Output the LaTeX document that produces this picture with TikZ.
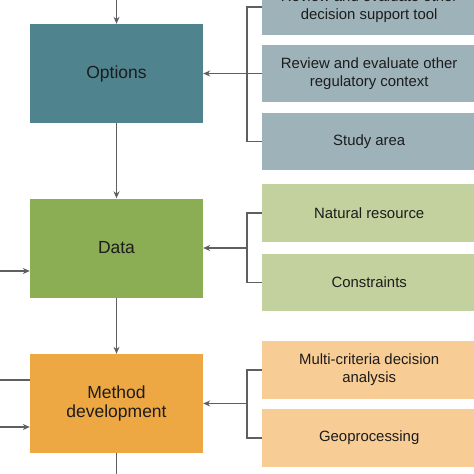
\documentclass[tikz,border=0pt]{standalone}
\usepackage{fontspec}
\setmainfont{Liberation Sans}
\usetikzlibrary{arrows.meta}
\definecolor{optfill}{HTML}{4F848E}
\definecolor{optsub}{HTML}{9EB3B9}
\definecolor{datfill}{HTML}{8BAD54}
\definecolor{datsub}{HTML}{C3D19E}
\definecolor{metfill}{HTML}{EEA843}
\definecolor{metsub}{HTML}{F7CC95}
\definecolor{linea}{HTML}{5F5F63}
\definecolor{testo}{HTML}{1C1C1C}
\tikzset{
  mainbox/.style={minimum width=173pt,minimum height=99pt,inner sep=0pt,text=testo,
    font=\fontsize{17.5}{19}\selectfont,align=center},
  subbox/.style={minimum width=214pt,minimum height=57.5pt,inner sep=0pt,text=testo,
    font=\fontsize{14.9}{18}\selectfont,align=center,anchor=west},
  conn/.style={draw=linea,line width=1.1pt},
  freccia/.style={conn,-{Stealth[length=7pt,width=6pt]}}
}
\begin{document}
\begin{tikzpicture}[x=1pt,y=-1pt]

\useasboundingbox (0,0) rectangle (474,474);
\clip (0,0) rectangle (474,474);

\begin{scope}
% main steps
\node[mainbox,fill=optfill] (opzioni) at (116.5,73.5) {Options};
\node[mainbox,fill=datfill] (dati) at (116.5,248) {Data};
\node[mainbox,fill=metfill] (metodo) at (116.5,403.5) {Method\\development};

% side boxes
\node[subbox,fill=optsub,minimum height=56pt] (strumento) at (262,7) {Review and evaluate other\\decision support tool};
\node[subbox,fill=optsub] (contesto) at (262,73.5) {Review and evaluate other\\regulatory context};
\node[subbox,fill=optsub] (area) at (262,141.5) {Study area};

\node[subbox,fill=datsub] (risorse) at (262,213) {Natural resource};
\node[subbox,fill=datsub] (vincoli) at (262,282.5) {Constraints};

\node[subbox,fill=metsub] (mcda) at (262,370) {Multi-criteria decision\\analysis};
\node[subbox,fill=metsub] (geo) at (262,438) {Geoprocessing};

\coordinate (top) at (116.5,0);
\coordinate (bottom) at (116.5,474);
\coordinate (ba) at (247,73.5);
\coordinate (bb) at (247,248);
\coordinate (bc) at (247,403.5);
\coordinate (la) at (0,271);
\coordinate (lb) at (0,380);
\coordinate (lc) at (0,427);

% main flow
\draw[freccia] (top) -- (opzioni.north);
\draw[freccia] (opzioni.south) -- (dati.north);
\draw[freccia] (dati.south) -- (metodo.north);
\draw[conn] (metodo.south) -- (bottom);

% brackets
\draw[conn] (strumento.west) -| (ba) |- (area.west);
\draw[freccia] (contesto.west) -- (opzioni.east);

\draw[conn] (risorse.west) -| (bb) |- (vincoli.west);
\draw[freccia] (bb) -- (dati.east);

\draw[conn] (mcda.west) -| (bc) |- (geo.west);
\draw[freccia] (bc) -- (metodo.east);

% loop on the left
\draw[freccia] (la) -- (la -| dati.west);
\draw[conn] (lb -| metodo.west) -- (lb);
\draw[freccia] (lc) -- (lc -| metodo.west);

\end{scope}

\end{tikzpicture}
\end{document}
